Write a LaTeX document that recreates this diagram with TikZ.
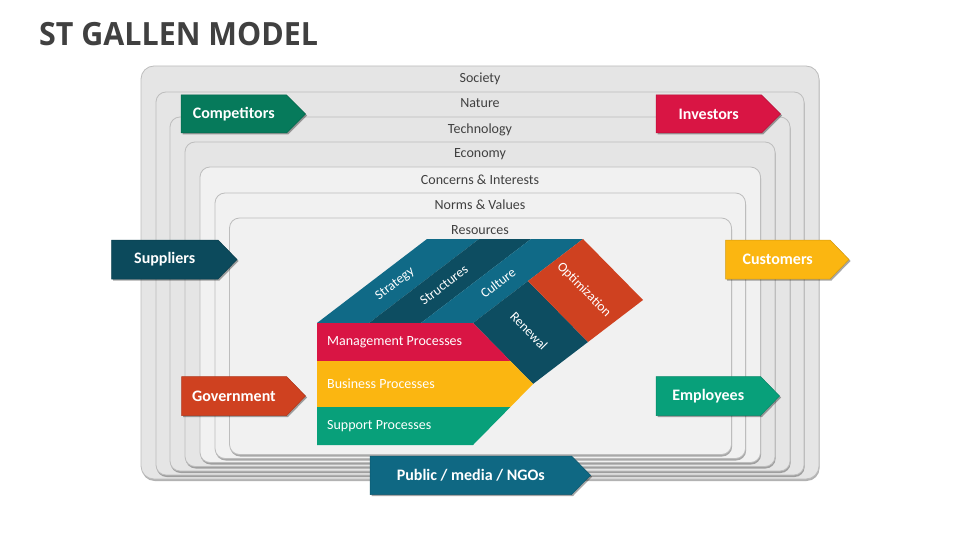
\documentclass[tikz,border=0pt]{standalone}
\usepackage{fontspec}
\setmainfont{Carlito}
\newfontfamily\titlefont[FakeStretch=0.95]{Open Sans}
\usetikzlibrary{shadows}
\definecolor{txtgray}{HTML}{404040}
\definecolor{layerdark}{HTML}{E5E5E5}
\definecolor{layerlight}{HTML}{F1F1F1}
\definecolor{layerline}{HTML}{BDBDBD}
\definecolor{cCompetitors}{HTML}{067A5B}
\definecolor{cInvestors}{HTML}{D91544}
\definecolor{cSuppliers}{HTML}{0C4A5C}
\definecolor{cCustomers}{HTML}{FBB611}
\definecolor{cGovernment}{HTML}{CF4120}
\definecolor{cEmployees}{HTML}{08A07A}
\definecolor{cPublic}{HTML}{0F6883}
\definecolor{cTeal}{HTML}{106A87}
\definecolor{cDeep}{HTML}{0D4D61}
\definecolor{cRed}{HTML}{D91544}
\definecolor{cAmber}{HTML}{FBB611}
\definecolor{cGreen}{HTML}{08A07A}
\definecolor{cOrange}{HTML}{CF4120}
\newcommand\arrowtag[7]{%
  \path[tagshape, fill=#6, draw=#6!85!black] (#2,#3) -- (#4,#3) -- ({#4+19},{(#3+#5)/2}) -- (#4,#5) -- (#2,#5) -- cycle;
  \node[tagtext] (#1) at ({(#2+#4)/2},{(#3+#5)/2}) {#7};
}
\begin{document}
\begin{tikzpicture}[x=1pt,y=-1pt,
  layerbox/.style={draw=layerline, line width=0.8pt, rounded corners=10pt,
    drop shadow={shadow xshift=0.6pt, shadow yshift=-2pt, fill=black, opacity=0.3}},
  layerlabel/.style={text=txtgray, font=\fontsize{14}{16}\selectfont, inner sep=0pt},
  tagshape/.style={line width=0.5pt,
    drop shadow={shadow xshift=1.5pt, shadow yshift=-1.5pt, fill=black, opacity=0.35}},
  tagtext/.style={text=white, font=\fontsize{16}{18}\selectfont\bfseries, inner sep=0pt},
  facelabel/.style={text=white, font=\fontsize{14}{16}\selectfont, inner sep=0pt, anchor=west},
  sidelabel/.style={text=white, font=\fontsize{13.5}{16}\selectfont, inner sep=0pt},
]
\useasboundingbox (0,0) rectangle (960,540);
\fill[white] (0,0) rectangle (960,540);

% title
\node[anchor=base west, inner sep=0pt, text=txtgray, font=\titlefont\bfseries\fontsize{32}{36}\selectfont] (title) at (39,46) {ST GALLEN MODEL};

% nested layers
\draw[layerbox, rounded corners=13pt, fill=layerdark] (141,66) rectangle (819,479);
\draw[layerbox, fill=layerdark] (156,92) rectangle (804,475);
\draw[layerbox, fill=layerdark] (170,117) rectangle (790,471);
\draw[layerbox, fill=layerdark] (185,142) rectangle (775,466.5);
\draw[layerbox, fill=layerlight] (200,167) rectangle (760.5,462.5);
\draw[layerbox, fill=layerlight] (215,193) rectangle (745.5,458.5);
\draw[layerbox, fill=layerlight] (229.5,218) rectangle (731.5,454.5);

\node[layerlabel] (society) at (480,79) {Society};
\node[layerlabel] (nature) at (480,103.5) {Nature};
\node[layerlabel] (technology) at (480,129.5) {Technology};
\node[layerlabel] (economy) at (480,154.5) {Economy};
\node[layerlabel] (concerns) at (480,179.5) {Concerns \& Interests};
\node[layerlabel] (norms) at (480,204.5) {Norms \& Values};
\node[layerlabel] (resources) at (480,230) {Resources};

% central block: top face
\fill[cTeal] (317,323) -- (369,323) -- (479,239) -- (427,239) -- cycle;
\fill[cDeep] (369,323) -- (421,323) -- (531,239) -- (479,239) -- cycle;
\fill[cTeal] (421,323) -- (473,323) -- (583,239) -- (531,239) -- cycle;
% right face
\fill[cDeep] (473,323) -- (528,281) -- (588,342) -- (533,384) -- cycle;
\fill[cOrange] (528,281) -- (583,239) -- (643,300) -- (588,342) -- cycle;
% front face
\fill[cRed] (317,323) -- (473,323) -- (510.4,361) -- (317,361) -- cycle;
\fill[cAmber] (317,361) -- (510.4,361) -- (533,384) -- (510.4,407) -- (317,407) -- cycle;
\fill[cGreen] (317,407) -- (510.4,407) -- (473,445) -- (317,445) -- cycle;

\node[sidelabel, rotate=37.4] (strategy) at (395,284) {Strategy};
\node[sidelabel, rotate=37.4] (structures) at (444,285) {Structures};
\node[sidelabel, rotate=37.4] (culture) at (498,283) {Culture};
\node[sidelabel, rotate=-45.5] (renewal) at (529,331) {Renewal};
\node[sidelabel, rotate=-45.5] (optimization) at (584,290) {Optimization};

\node[facelabel] (mgmt) at (327,342) {Management Processes};
\node[facelabel] (business) at (327,384) {Business Processes};
\node[facelabel] (support) at (327,426) {Support Processes};

% stakeholder tags
\arrowtag{competitors}{181}{95}{286.5}{133}{cCompetitors}{Competitors}
\arrowtag{investors}{656}{95}{761.5}{133}{cInvestors}{Investors}
\arrowtag{suppliers}{111.5}{240}{218}{279}{cSuppliers}{Suppliers}
\arrowtag{customers}{725.5}{240}{830}{279}{cCustomers}{Customers}
\arrowtag{government}{181.5}{376.5}{286.5}{415.5}{cGovernment}{Government}
\arrowtag{employees}{656}{376.5}{760.5}{415.5}{cEmployees}{Employees}
\arrowtag{public}{370}{456}{571.5}{494.5}{cPublic}{Public / media / NGOs}
\end{tikzpicture}
\end{document}
